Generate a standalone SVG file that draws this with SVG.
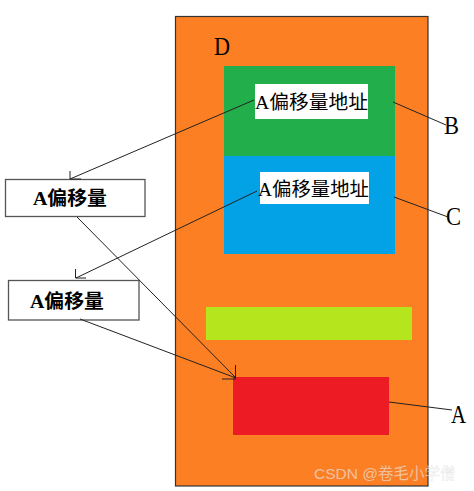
<svg xmlns="http://www.w3.org/2000/svg" width="474" height="491" viewBox="0 0 474 491">
<style>
.lbl{font-family:"Liberation Serif","Noto Sans CJK SC",serif;fill:#000}
.bold{font-weight:bold}
.big{font-family:"Liberation Serif",serif;fill:#000;font-size:26px}
.ln{stroke:#222;stroke-width:1;fill:none}
.box{fill:#fff;stroke:#555;stroke-width:1.3}
</style>
<rect width="474" height="491" fill="#fff"/>
<g id="D">
<rect x="175.5" y="16.5" width="252.5" height="469.5" fill="#FD7F24" stroke="#333" stroke-width="1.2"/>
<text class="big" x="214" y="55" textLength="16" lengthAdjust="spacingAndGlyphs">D</text>
</g>
<g id="B">
<rect x="224" y="66" width="171" height="90" fill="#22AE4A"/>
<rect x="255" y="84" width="113" height="35" fill="#fff"/>
<text class="lbl" x="255" y="109" font-size="19" textLength="113" lengthAdjust="spacingAndGlyphs">A偏移量地址</text>
</g>
<g id="C">
<rect x="224" y="156" width="171" height="98" fill="#03A2E6"/>
<rect x="260" y="172" width="109" height="32" fill="#fff"/>
<text class="lbl" x="258" y="196" font-size="19" textLength="111" lengthAdjust="spacingAndGlyphs">A偏移量地址</text>
</g>
<g id="lime">
<rect x="206" y="307" width="206" height="33" fill="#B5E61D"/>
</g>
<g id="A">
<rect x="233" y="377" width="156" height="58" fill="#ED1C24"/>
</g>
<g id="box1">
<rect class="box" x="5.5" y="179.5" width="139.5" height="37"/>
<text class="lbl bold" x="33" y="205" font-size="19" textLength="74" lengthAdjust="spacingAndGlyphs">A偏移量</text>
</g>
<g id="box2">
<rect class="box" x="8.5" y="280.5" width="130.5" height="39.5"/>
<text class="lbl bold" x="30" y="308" font-size="19" textLength="74" lengthAdjust="spacingAndGlyphs">A偏移量</text>
</g>
<g id="labels">
<text class="big" x="444" y="134" textLength="15" lengthAdjust="spacingAndGlyphs">B</text>
<text class="big" x="446" y="225" textLength="15" lengthAdjust="spacingAndGlyphs">C</text>
<text class="big" x="451" y="423" textLength="15" lengthAdjust="spacingAndGlyphs">A</text>
</g>
<g id="connectors">
<path class="ln" d="M393 102 L446 125"/>
<path class="ln" d="M394 197 L448 217"/>
<path class="ln" d="M389 402 L452 410"/>
<path class="ln" d="M254 100 L70 179 M70 171 L70 179 L81 179"/>
<path class="ln" d="M257 191 L76 278 M75.5 269 L75.5 278 L86 278"/>
<path class="ln" d="M77 217 L236 378 M80 319 L236 378 M235.5 365 L235.5 378 M222 379 L236 379"/>
</g>
<text x="314" y="479" font-family="Liberation Sans,'Noto Sans CJK SC',sans-serif" font-size="15.5" fill="#fff" fill-opacity="0.55" stroke="#999" stroke-opacity="0.25" stroke-width="0.5">CSDN @卷毛小学僧</text>
</svg>
